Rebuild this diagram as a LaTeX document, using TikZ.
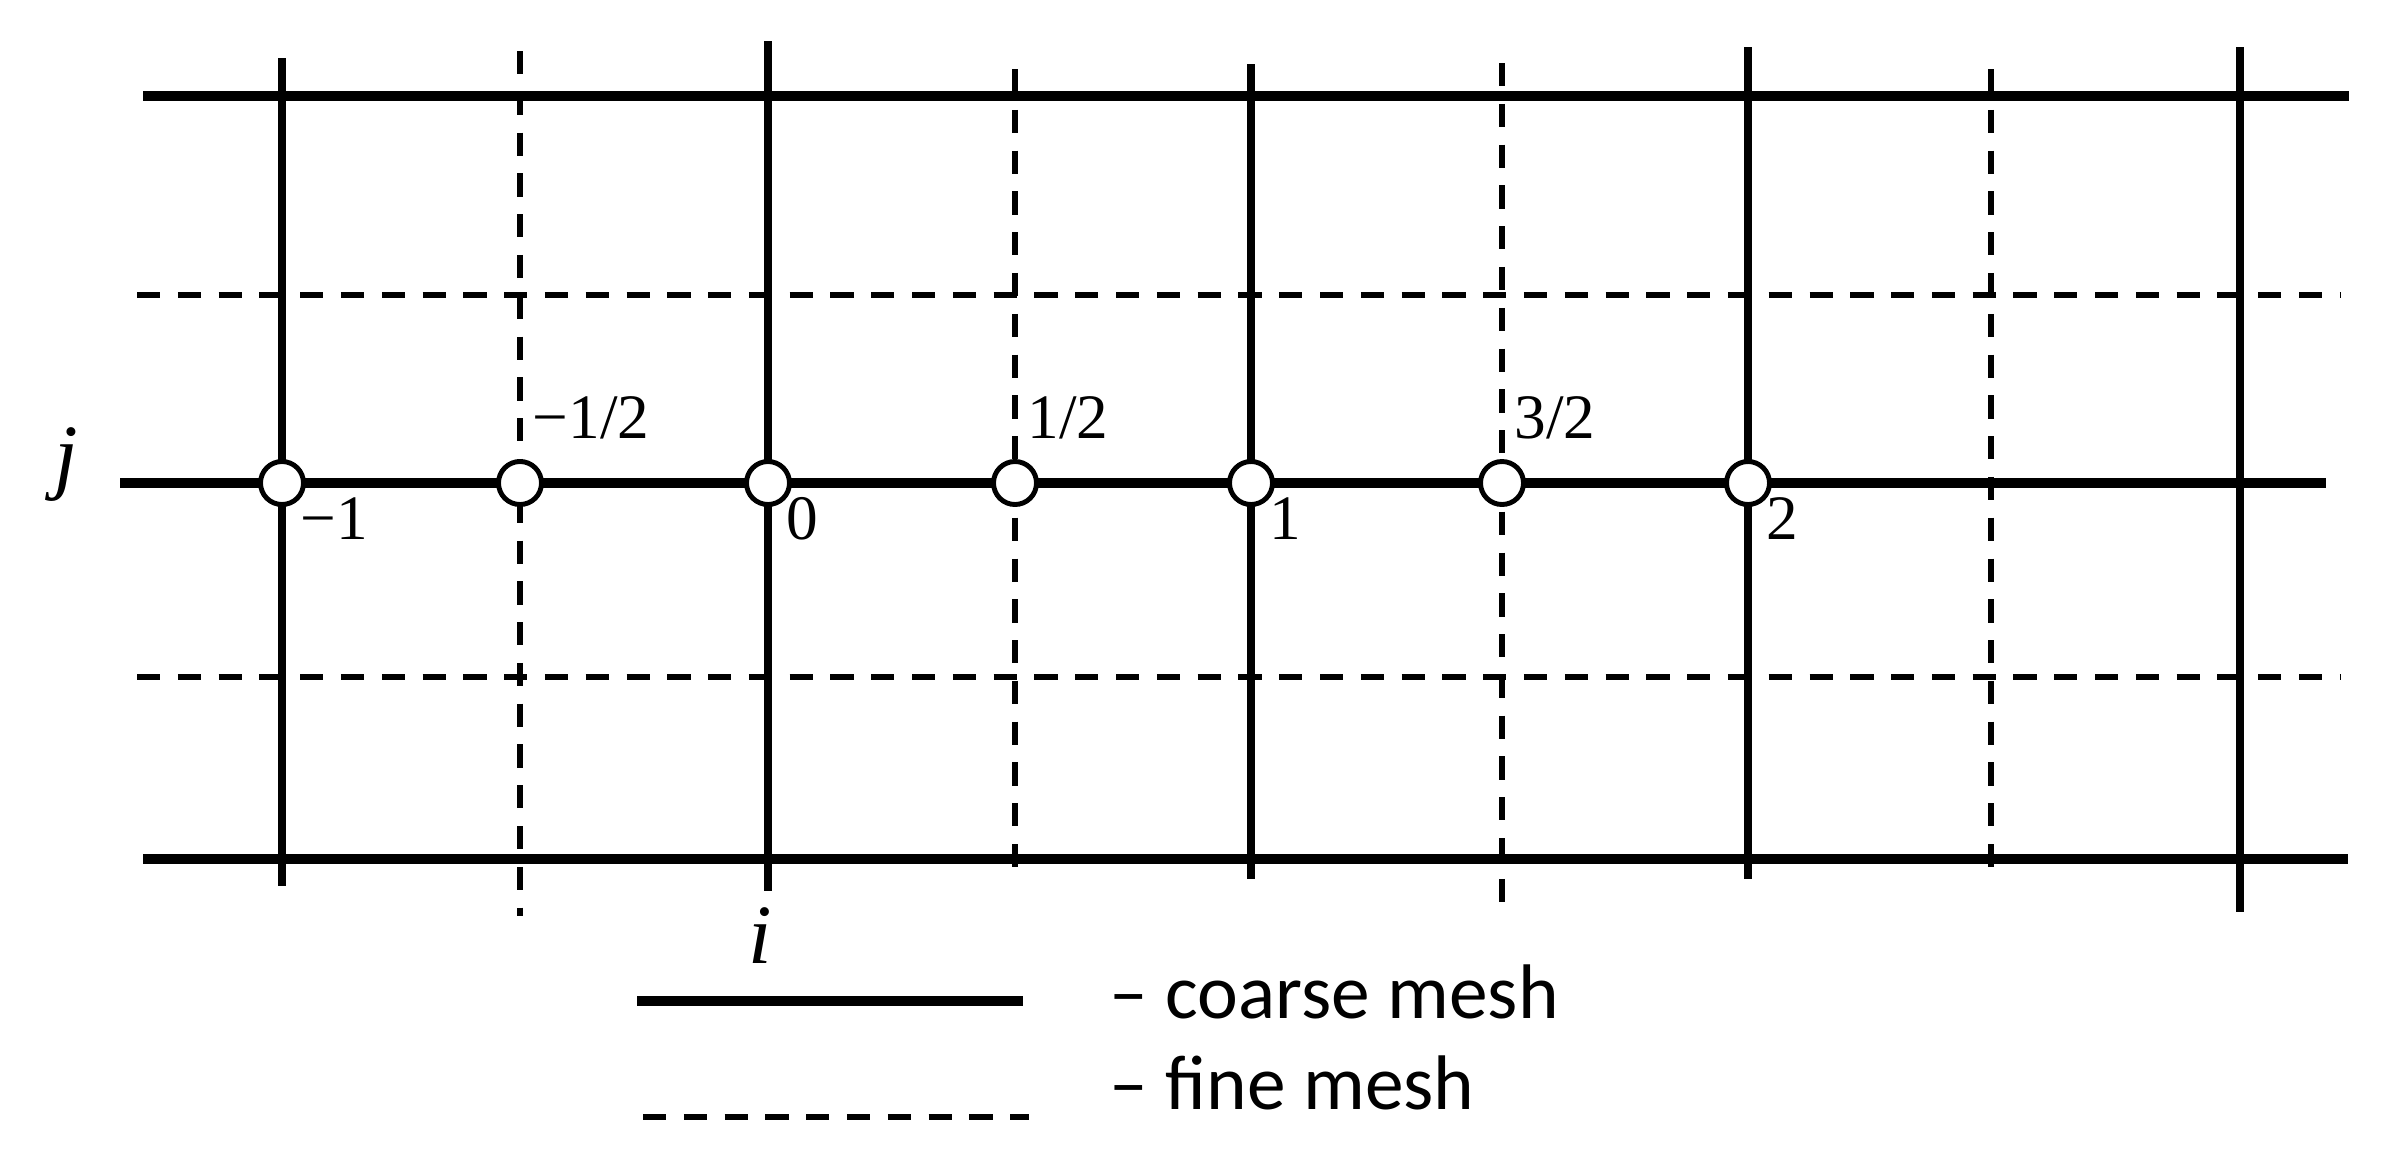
\documentclass[tikz,border=0pt]{standalone}
\usepackage{fontspec}
\setmainfont{Liberation Serif}
\newfontfamily\legendfont{Carlito}
\usepackage{tikz}
\usetikzlibrary{positioning}

\begin{document}
\begin{tikzpicture}[x=0.01cm,y=-0.01cm,
   coarse/.style={line width=2.6pt},
   fine/.style={line width=1.8pt,dash pattern=on 6.6pt off 5pt},
   pnt/.style={circle,draw,fill=white,line width=1.4pt,minimum size=0.43cm,inner sep=0pt},
   idx/.style={font=\fontsize{18}{18}\selectfont,inner sep=0pt,anchor=base west},
   axlbl/.style={font=\fontsize{24}{24}\selectfont\itshape,inner sep=0pt,anchor=base},
   lgd/.style={font=\legendfont\fontsize{22}{22}\selectfont,inner sep=0pt,anchor=base west}]
\useasboundingbox (0,0) rectangle (2393,1172);
% coarse mesh
\draw[coarse] (143,96) -- (2349,96);
\draw[coarse] (120,483) -- (2326,483);
\draw[coarse] (143,859) -- (2348,859);
\foreach \x/\t/\b in {282/58/886,768/41/891,1251/64/879,1748/47/879,2240/47/912} {
   \draw[coarse,line width=2.4pt] (\x,\t) -- (\x,\b);
}
% fine mesh
\draw[fine] (137,295) -- (2341,295);
\draw[fine] (137,677) -- (2341,677);
\foreach \x/\t/\b in {520/51/916,1015/69/868,1502/63/903,1991/69/868} {
   \draw[fine,line width=1.7pt] (\x,\t) -- (\x,\b);
}
% points on row j
\foreach \n/\x in {m1/282,mh/520,z/768,ph/1015,p1/1251,p3h/1502,p2/1748} {
   \node[pnt] (\n) at (\x,483) {};
}
\foreach \n/\l in {m1/−1,z/0,p1/1,p2/2} {
   \node[idx] (l\n) at ([shift={(18,56)}]\n.center) {\l};
}
\foreach \n/\l in {mh/−1,ph/1,p3h/3} {
   \node[idx] (l\n) at ([shift={(12,-45)}]\n.center) {\l/2};
}
\node[axlbl] (jlbl) at (66,483) {j};
\node[axlbl] (ilbl) at (760,963) {i};
% legend
\coordinate (cs) at (637,1001);
\coordinate (ce) at (1023,1001);
\draw[coarse] (cs) -- (ce);
\coordinate (fs) at (643,1117);
\coordinate (fe) at (1029,1117);
\draw[fine] (fs) -- (fe);
\node[lgd] (lc) at (1109,1018) {– coarse mesh};
\node[lgd] (lf) at (1109,1109) {– fine mesh};
\end{tikzpicture}
\end{document}
